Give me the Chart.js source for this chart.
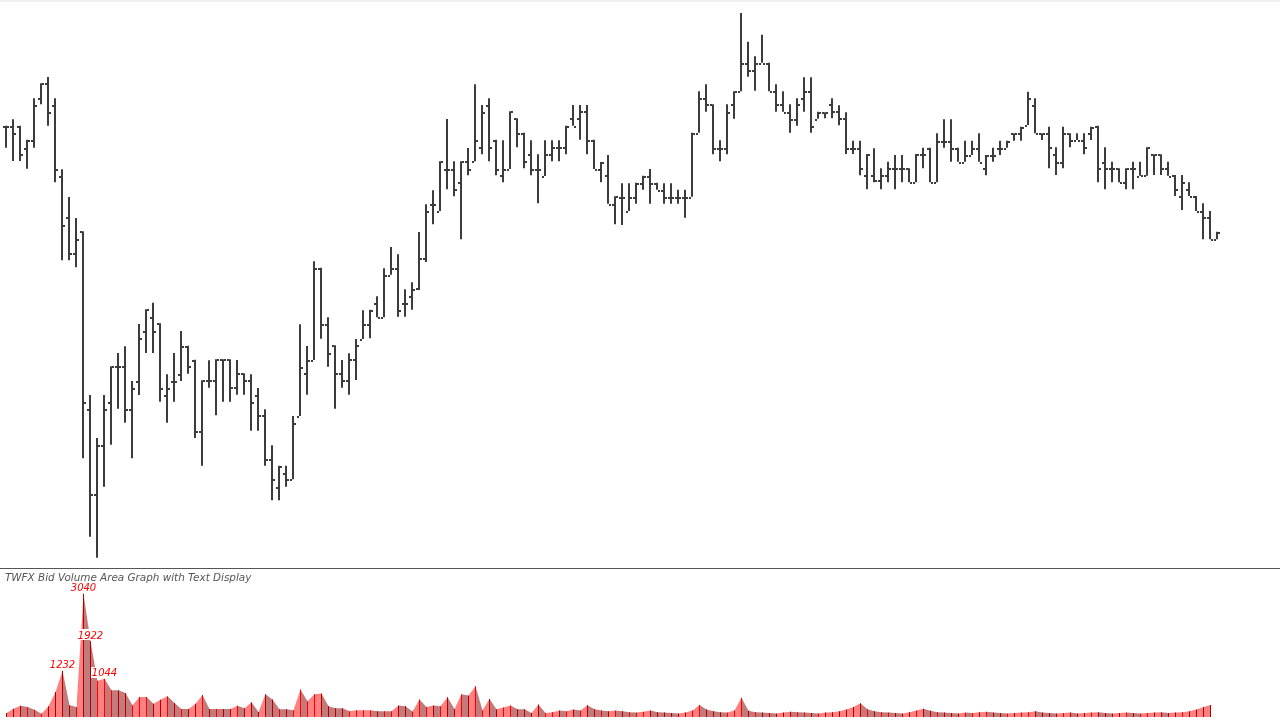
<!DOCTYPE html>
<html><head><meta charset="utf-8">
<script src="https://cdn.jsdelivr.net/npm/chart.js@4.4.1/dist/chart.umd.min.js"></script>
<style>
html,body{margin:0;padding:0;background:#fff;width:1280px;height:720px;overflow:hidden}
#topline{position:absolute;left:0;top:0;width:1280px;height:2px;background:#efefef}
#priceWrap{position:absolute;left:0;top:0;width:1280px;height:568px}
#sep{position:absolute;left:0;top:568px;width:1280px;height:1px;background:#555}
#volWrap{position:absolute;left:0;top:569px;width:1280px;height:151px}
#title{position:absolute;left:5px;top:571px;font:italic 10.4px "DejaVu Sans";color:#555;white-space:nowrap}
</style></head>
<body>
<div id="topline"></div>
<div id="priceWrap"><canvas id="price" width="1280" height="568"></canvas></div>
<div id="sep"></div>
<div id="volWrap"><canvas id="vol" width="1280" height="151"></canvas></div>
<div id="title">TWFX Bid Volume Area Graph with Text Display</div>
<script>
const opens = [474.3,474.3,474.3,452.3,460.3,502.3,516.7,495.3,424.3,382.7,
346.7,368.7,191.3,106,155.3,198.3,233.7,233.7,191.3,219,
269,283.3,276.7,205,219,225.7,254.3,240.3,169.3,219.7,
220,240.7,240.7,213,226.7,220,205.3,184.7,141.3,113.3,
127.3,120.7,184,226.7,240,332.3,276,254.7,226.7,220,
240.7,261,276,297.3,282.7,325.3,332.3,297.3,304.3,312,
342,396.3,389,431,431,417.7,438.7,438.7,452.7,495,
460.3,424.7,431,481.7,467.3,445.7,431,424,445.7,452.7,
452.7,481.7,481.7,488.7,460.3,431,424.7,396.3,403.3,389,
403.3,417.3,424.3,417.3,410.3,403.3,403.3,403.3,403.3,467.3,
502,495.7,451.7,451.7,495.7,508.7,537.3,530.3,537.3,537.3,
508.7,495.7,488.3,481.3,502,509.3,481.3,487.7,495.7,488.7,
481.7,452.3,452.3,424.7,424.7,420,424.7,431.7,431.7,431.7,
417.7,446,452.3,417.7,459.3,459.3,452.3,438.3,445,452.3,
431.7,445,452.3,452.3,466.7,466.7,475,495.3,466.7,466.7,
445.7,438.3,466.7,460,460,466.7,474.3,438.3,431.7,431.7,
417.7,431.7,424.3,425,445.7,445.7,431.7,425,404,410.7,
404,389,382.7,360.7];
const highs = [474.3,480.7,474.3,460.3,501.7,516.7,523,501.7,430.7,403,
382,368.7,205,162,205,233.7,247,253.7,219,276,
290.7,297.3,276.7,225.7,247,269,254.3,240.3,219.7,239.7,
240.7,240.7,240.7,240,226.7,225.7,212,190.7,154.7,134.3,
134.3,184,275.7,254,338.7,332.3,282.7,254.7,240,246.7,
261,289.7,290.3,303.7,331.7,353,345.7,310.7,317.7,368,
395.7,409.7,438.7,481,438.7,438.7,452,515.7,495,501.7,
460.3,459.7,488.7,481.7,467.3,459.7,445.7,459.7,459.7,459.7,
474.3,495,495,495,460.3,438,445,403.7,416.7,416.7,
417.3,424.3,431,417.3,416.7,416.7,410.3,410.3,467.3,508.7,
515.7,495.7,459.7,495.7,508.7,587,558.3,543.7,565.3,537.3,
515.7,508.7,495.7,501.7,522.7,522.7,488.3,487.7,501.7,494.7,
487.7,459.3,459.3,446,451.7,431.7,438.3,445,445,431.7,
446,452.3,452.3,466.7,480.7,480.7,452.3,459.3,459.3,466.7,
445,452.3,459.3,459.3,466.7,473.3,508.3,501.7,466.7,473.3,
452.7,473.3,466.7,466.7,466.7,473.3,474.3,452.7,438.3,431.7,
431.7,438.3,438.3,452.7,445.7,445.7,438.3,425,425,417.7,
404,396.7,389,368.3];
const lows = [452.3,439,439,431.3,452.3,495.7,474.3,417.7,339.7,339.7,
332.7,141.7,63.3,42.3,113.3,155.3,191.3,177.3,141.7,205,
247,247,198.3,177.3,198.3,219,226.3,162,134.3,212.3,
184.7,198.3,198.3,205.3,205.3,169.3,169.3,134.3,99.7,99.7,
113.3,120.7,184,205.3,240,261.3,233.3,191.3,212.3,205.3,
220,261,261.7,282.7,282.7,325.3,283.3,283.3,290.3,310,
338,375.7,389,410.7,403.7,360.7,424.7,438.7,445.7,438.7,
424.7,417.7,431,452.7,431.7,424.7,396.7,424,438.7,438.7,
445.7,474.3,460.3,445.7,431,417.7,396.3,375.7,375,389,
396.3,410.3,396.3,410.3,396.3,396.3,396.3,382.3,403.3,467.3,
488.3,445.7,438.7,445.7,481.3,508.7,523.3,509.3,537.3,508.7,
488.3,488.3,467.3,474.3,488.3,467.3,481.3,481.7,481.7,474.7,
446,446,424.7,410.7,417.7,410.7,417.7,410.7,417.7,417.7,
417.7,431.7,417.7,417.7,452.3,438.3,438.3,438.3,445,438.3,
424.7,438.3,445,452.3,459.3,459.3,475,466.7,460,431.7,
425,431.7,452.7,460,445.7,460,417.7,410.7,417.7,417.7,
410.7,410.7,424.3,424.3,425,425,424.3,404,390,404,
389,360.7,360.7,360.7];
const closes = [474.3,467.3,445.7,460.3,495.3,516.7,488.3,431.3,375.3,346.7,
360.7,198.3,106,155.3,191.3,233.7,233.7,191.3,212.3,261.7,
290.7,269,212.3,212.3,219,254.3,233.7,169.3,219.7,219.7,
240.7,240.7,213,226.7,220,198.3,184.7,141.3,120.7,134.3,
120.7,177.3,233.3,240,332.3,276,247.3,226.7,220,240.7,
254.7,276,290.3,282.7,325.3,332.3,290.3,297.3,311.3,342,
389,396.3,438.7,431,410.7,438.7,431,460.3,488.3,452.7,
431,431,488.7,466.7,438.7,431,431,445.7,452.7,452.7,
474.3,474.3,488.7,460.3,431,438,396.3,403.7,403.3,403.3,
417.3,424.3,417.3,410.3,403.3,403.3,403.3,403.3,467.3,502,
495.7,451.7,451.7,488.3,508.7,537.3,530.3,537.3,537.3,508.7,
495.7,488.3,481.3,495.7,509.3,474.3,488.3,487.7,488.7,481.7,
452.3,452.3,431.7,446,420,424.7,431.7,431.7,431.7,417.7,
446,446,417.7,459.3,459.3,452.3,438.3,445,452.3,438.3,
445,445,452.3,459.3,466.7,473.3,502.3,466.7,466.7,452.7,
438.3,466.7,460,460,452.7,473.3,431.7,431.7,431.7,417.7,
431.7,431.7,425,452.7,445.7,431.7,424.3,410.7,417.7,404,
389,382.7,360.7,368.3];
const volumes = [240,341,412,381,318,224,397,733,1232,421,
381,3040,1922,998,1044,773,773,710,421,616,
616,459,553,632,475,334,334,459,663,334,
334,334,334,412,350,491,264,679,555,327,
327,303,790,515,679,696,397,350,350,280,
303,303,303,280,280,280,414,400,273,555,
381,414,400,609,334,679,649,867,303,569,
327,367,414,327,327,240,437,240,260,300,
280,320,300,420,330,300,280,300,280,260,
250,270,300,260,250,240,230,250,300,430,
320,280,260,250,300,600,290,260,250,240,
230,250,270,260,250,240,230,250,260,280,
320,380,470,330,280,260,250,240,230,260,
300,340,290,260,250,240,230,250,240,260,
270,250,240,230,240,250,260,280,250,240,
230,240,250,230,240,250,260,240,230,240,
250,240,230,240,250,260,240,250,260,280,
320,380,430,null];
const LABEL_MIN = 1000;

const BAR_COLOR = '#3c3c3c';
const SALMON = 'rgb(255,128,128)';
const BROWN = 'rgb(196,122,122)';
const LINE_UP = '#ff0000';
const LINE_DOWN = '#b00000';

const idx = opens.map((_, i) => i);

const ohlcTicks = {
  id: 'ohlcTicks',
  afterDatasetsDraw(chart) {
    const {ctx, scales: {x, y}} = chart;
    ctx.save();
    ctx.fillStyle = BAR_COLOR;
    for (let i = 0; i < opens.length; i++) {
      const px = Math.round(x.getPixelForValue(i));
      const yo = Math.round(y.getPixelForValue(opens[i]));
      const yc = Math.round(y.getPixelForValue(closes[i]));
      ctx.fillRect(px - 3, yo, 2, 2);
      ctx.fillRect(px + 1, yc, 2, 2);
    }
    ctx.restore();
  }
};

new Chart(document.getElementById('price'), {
  type: 'bar',
  data: {
    datasets: [{
      data: idx.map(i => ({x: i, y: [lows[i], highs[i]]})),
      backgroundColor: BAR_COLOR,
      borderWidth: 0,
      barThickness: 2,
      inflateAmount: 0,
      borderSkipped: false
    }]
  },
  options: {
    responsive: false,
    animation: false,
    devicePixelRatio: 1,
    layout: {padding: 0},
    plugins: {legend: {display: false}, tooltip: {enabled: false}},
    scales: {
      x: {type: 'linear', display: false, offset: false, min: -6/7, max: -6/7 + 1280/7},
      y: {type: 'linear', display: false, min: 32, max: 600}
    }
  },
  plugins: [ohlcTicks]
});

// volume direction (rising/falling), flat keeps previous
const volDir = [];
volumes.forEach((v, i) => {
  if (i === 0 || v == null) { volDir.push(i === 0 ? 1 : volDir[i - 1]); return; }
  const p = volumes[i - 1];
  volDir.push(v > p ? 1 : (v < p ? -1 : volDir[i - 1]));
});

const volLabels = {
  id: 'volLabels',
  afterDatasetsDraw(chart) {
    const {ctx, scales: {x, y}} = chart;
    ctx.save();
    ctx.font = 'italic 10px "DejaVu Sans"';
    ctx.textAlign = 'center';
    ctx.textBaseline = 'bottom';
    volumes.forEach((v, i) => {
      if (v == null || v < LABEL_MIN) return;
      const px = x.getPixelForValue(i);
      const py = y.getPixelForValue(v);
      const t = String(v);
      const w = ctx.measureText(t).width;
      ctx.fillStyle = '#ffffff';
      ctx.fillRect(Math.round(px - w / 2 - 1), Math.round(py - 12), Math.round(w + 2), 11);
      ctx.fillStyle = '#ff0000';
      ctx.fillText(t, px, py);
    });
    ctx.restore();
  }
};

const VMIN = 146;
const VMAX = 146 + 148 / 0.04259;

new Chart(document.getElementById('vol'), {
  data: {
    datasets: [
      {
        type: 'bar',
        order: 0,
        data: idx.map(i => ({x: i, y: volumes[i]})),
        backgroundColor: idx.map(i => closes[i] > opens[i] ? LINE_UP : LINE_DOWN),
        borderWidth: 0,
        inflateAmount: 0,
        barThickness: 1
      },
      {
        type: 'line',
        order: 1,
        data: idx.map(i => ({x: i, y: volumes[i]})),
        borderWidth: 0,
        borderColor: 'rgba(0,0,0,0)',
        backgroundColor: SALMON,
        pointRadius: 0,
        tension: 0,
        fill: 'start',
        segment: {
          backgroundColor: c => volDir[c.p1DataIndex] > 0 ? SALMON : BROWN
        }
      }
    ]
  },
  options: {
    responsive: false,
    animation: false,
    devicePixelRatio: 1,
    layout: {padding: {left: 0, right: 0, top: 0, bottom: 3}},
    plugins: {legend: {display: false}, tooltip: {enabled: false}},
    scales: {
      x: {type: 'linear', display: false, offset: false, min: -6.5/7, max: -6.5/7 + 1280/7},
      y: {type: 'linear', display: false, min: VMIN, max: VMAX}
    }
  },
  plugins: [volLabels]
});
</script>
</body></html>
